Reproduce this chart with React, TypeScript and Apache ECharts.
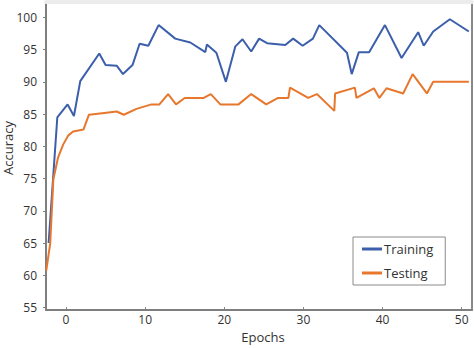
import React, { useEffect, useRef } from "react";
import * as echarts from "echarts";

const trainEpochs = [-2.2, -1.1, 0.2, 1.0, 1.8, 4.2, 5.0, 6.4, 7.2, 8.4, 9.3, 10.4, 11.7, 13.8, 15.7, 17.6, 17.8, 19.0, 20.2, 21.4, 22.3, 23.4, 24.4, 25.4, 27.7, 28.7, 29.9, 31.2, 32.0, 35.5, 36.1, 37.0, 38.3, 40.3, 42.4, 44.5, 45.2, 46.4, 48.5, 50.9];
const trainAcc = [65.0, 84.5, 86.5, 84.7, 90.1, 94.4, 92.6, 92.5, 91.2, 92.6, 95.9, 95.6, 98.8, 96.7, 96.1, 94.6, 95.8, 94.5, 90.0, 95.5, 96.6, 94.7, 96.7, 96.0, 95.7, 96.7, 95.6, 96.7, 98.8, 94.5, 91.2, 94.6, 94.6, 98.8, 93.7, 97.7, 95.6, 97.8, 99.7, 97.8];

const testEpochs = [-2.5, -2.0, -1.6, -1.0, -0.35, 0.3, 0.9, 2.2, 2.9, 4.3, 6.4, 7.3, 8.9, 10.8, 11.8, 12.9, 13.9, 15.0, 17.4, 18.3, 19.5, 21.8, 23.4, 25.3, 26.8, 28.1, 28.3, 30.6, 31.7, 33.9, 34.0, 36.5, 36.7, 38.9, 39.6, 40.5, 42.6, 43.8, 45.6, 46.4, 50.9];
const testAcc = [60.7, 64.9, 74.9, 78.3, 80.3, 81.7, 82.3, 82.6, 84.9, 85.1, 85.4, 84.9, 85.8, 86.5, 86.5, 88.1, 86.5, 87.5, 87.5, 88.1, 86.5, 86.5, 88.1, 86.5, 87.5, 87.5, 89.1, 87.5, 88.1, 85.5, 88.2, 89.1, 87.5, 89.0, 87.5, 89.0, 88.2, 91.2, 88.2, 90.0, 90.0];

const xTicks = [0, 10, 20, 30, 40, 50];
const yTicks = [55, 60, 65, 70, 75, 80, 85, 90, 95, 100];

const FONT = "'Open Sans', 'Noto Sans', sans-serif";

export default function App() {
  const ref = useRef<HTMLDivElement>(null);
  useEffect(() => {
    if (!ref.current) return;
    const chart = echarts.init(ref.current, undefined, { renderer: "svg" });
    const axisText = { color: "#333", fontSize: 12, fontFamily: FONT };
    chart.setOption({
      animation: false,
      backgroundColor: "#fff",
      grid: { left: 46, right: 2, top: 2, bottom: 25.3 },
      legend: {
        orient: "vertical",
        left: 353,
        top: 237,
        padding: [5, 12, 5, 9],
        itemGap: 10,
        itemWidth: 20,
        itemHeight: 3,
        icon: "rect",
        borderColor: "#8a8a8a",
        borderWidth: 1,
        textStyle: { color: "#333", fontSize: 13, fontFamily: FONT, lineHeight: 14, padding: [0, 0, 0, -3] },
        data: ["Training", "Testing"],
      },
      xAxis: [
        {
          type: "value",
          min: -2.53,
          max: 51.3,
          name: "Epochs",
          nameLocation: "middle",
          nameGap: 11,
          nameTextStyle: { color: "#333", fontSize: 13, fontFamily: FONT, padding: [0, 0, 0, 8] },
          axisLine: { show: true, onZero: false, lineStyle: { color: "#7f7f7f", width: 2 } },
          axisTick: { show: true, inside: true, length: 3, lineStyle: { color: "#7f7f7f" }, customValues: xTicks },
          axisLabel: { ...axisText, margin: 3, customValues: xTicks },
          splitLine: { show: false },
        },
        {
          type: "value",
          position: "top",
          min: -2.53,
          max: 51.3,
          axisLine: { show: true, onZero: false, lineStyle: { color: "#ececec", width: 4 } },
          axisTick: { show: false },
          axisLabel: { show: false },
          splitLine: { show: false },
        },
      ],
      yAxis: [
        {
          type: "value",
          min: 54.6,
          max: 102.38,
          axisLine: { show: true, onZero: false, lineStyle: { color: "#7f7f7f", width: 2 } },
          axisTick: { show: true, length: 3, lineStyle: { color: "#7f7f7f" }, customValues: yTicks },
          axisLabel: { ...axisText, margin: 9, customValues: yTicks },
          splitLine: { show: false },
        },
        {
          type: "value",
          position: "right",
          min: 54.6,
          max: 102.38,
          axisLine: { show: true, onZero: false, lineStyle: { color: "#8a8a8a", width: 2 } },
          axisTick: { show: false },
          axisLabel: { show: false },
          splitLine: { show: false },
        },
      ],
      graphic: [
        {
          type: "text",
          x: 8,
          y: 148,
          rotation: Math.PI / 2,
          style: {
            text: "Accuracy",
            fill: "#333",
            font: `13px ${FONT}`,
            textAlign: "center",
            textVerticalAlign: "middle",
          },
        },
      ],
      series: [
        {
          name: "Training",
          type: "line",
          data: trainEpochs.map((e, i) => [e, trainAcc[i]]),
          showSymbol: false,
          symbol: "none",
          lineStyle: { color: "#3c5fab", width: 2 },
          itemStyle: { color: "#3c5fab" },
        },
        {
          name: "Testing",
          type: "line",
          data: testEpochs.map((e, i) => [e, testAcc[i]]),
          showSymbol: false,
          symbol: "none",
          lineStyle: { color: "#e8772e", width: 2 },
          itemStyle: { color: "#e8772e" },
        },
      ],
    });
    return () => chart.dispose();
  }, []);
  return <div ref={ref} style={{ width: 474, height: 348, position: "fixed", left: 0, top: 0 }} />;
}
